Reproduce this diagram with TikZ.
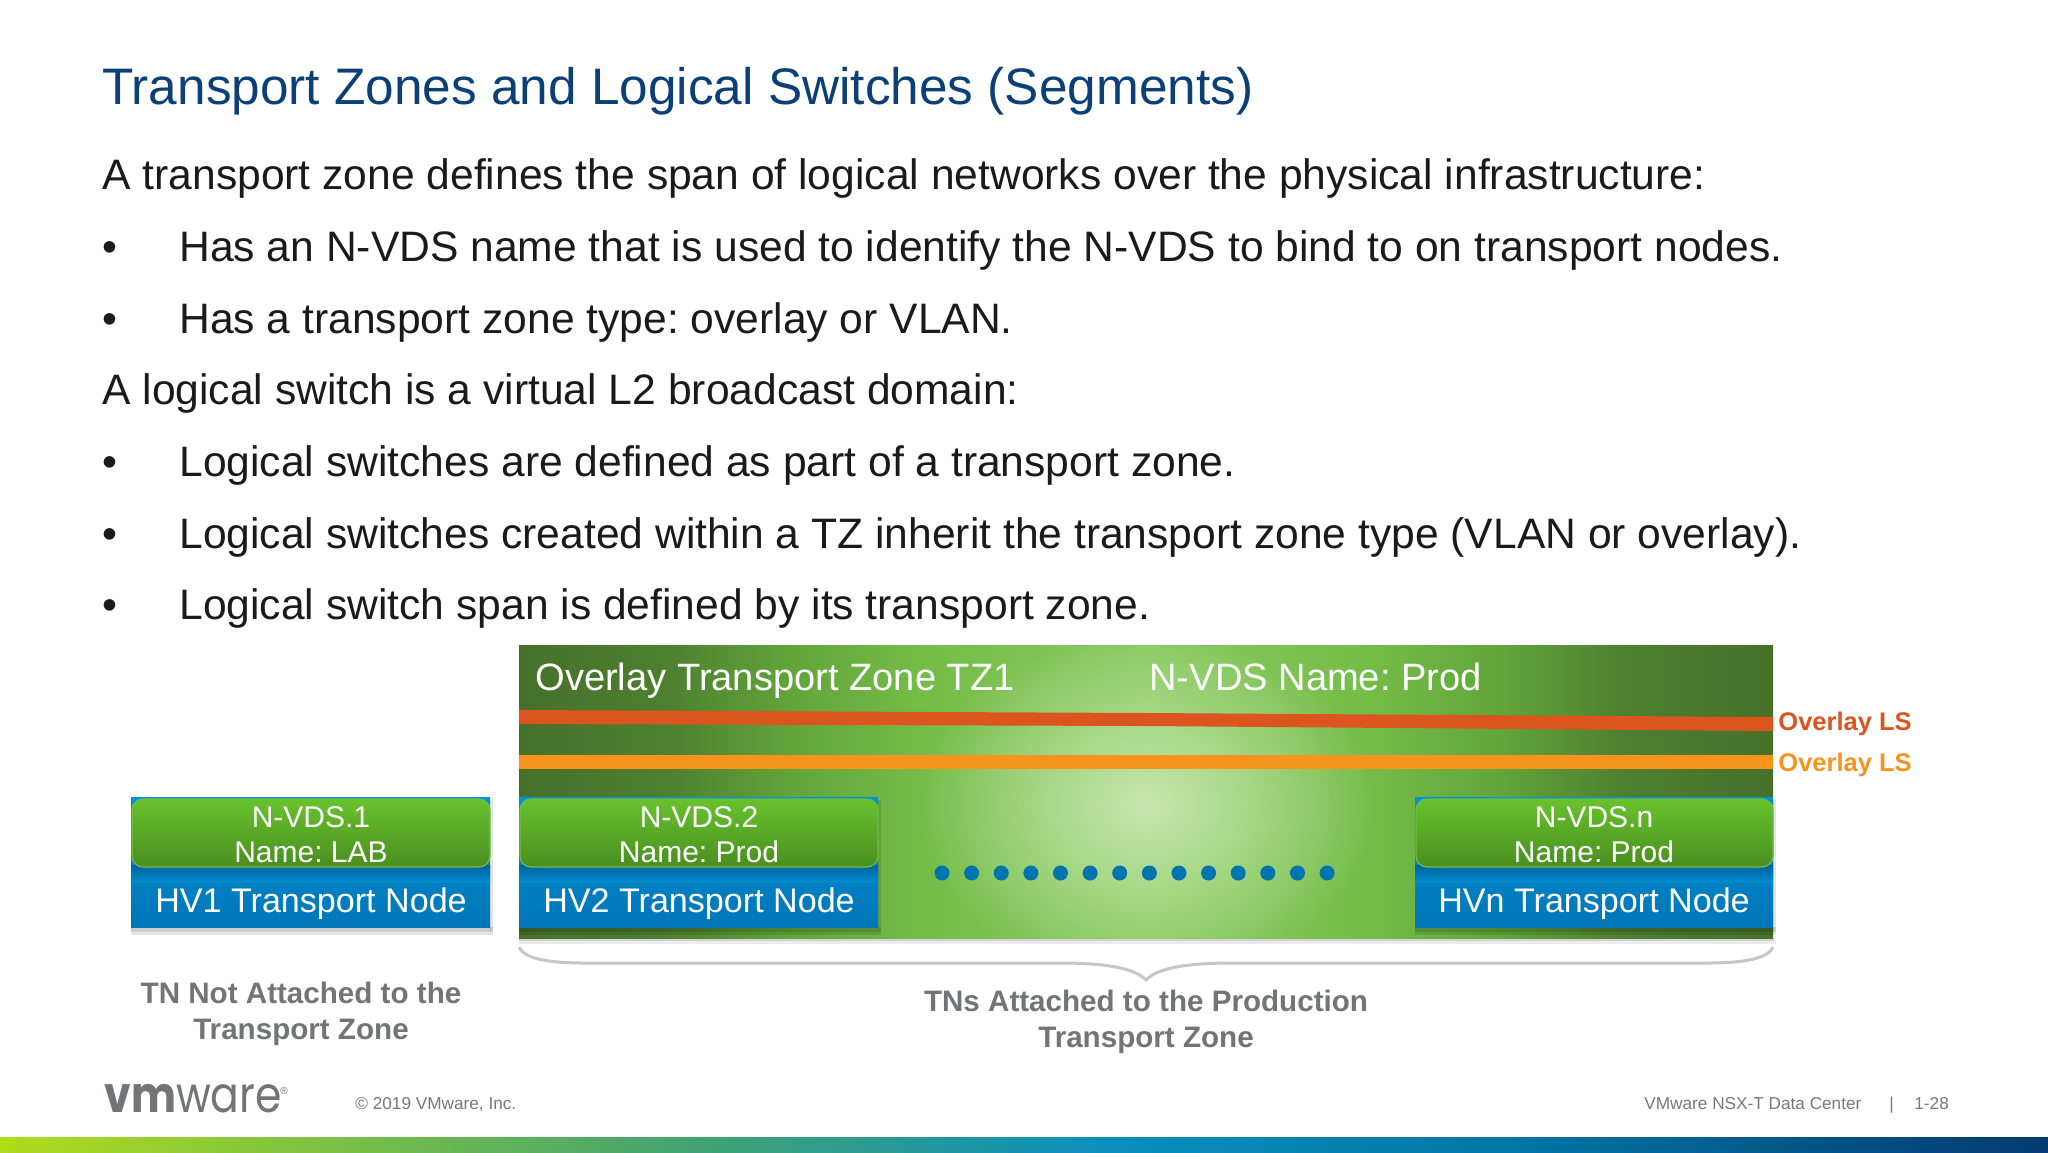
\documentclass[tikz,border=0pt]{standalone}
\usepackage{fontspec}
\usepackage{graphicx}
\setmainfont{Liberation Sans}
\newfontfamily\logofont{Poppins}
\usetikzlibrary{fadings}
\frenchspacing
\definecolor{titleblue}{HTML}{0B3F78}
\definecolor{bodyblack}{HTML}{1A1A1A}
\definecolor{capgray}{HTML}{737477}
\definecolor{footgray}{HTML}{77787B}
\definecolor{lsred}{HTML}{DC541E}
\definecolor{lsorange}{HTML}{F7941E}
\definecolor{dotblue}{HTML}{0074AE}
\definecolor{tza}{HTML}{46702A}
\definecolor{tzb}{HTML}{4E8030}
\definecolor{tzc}{HTML}{62A63A}
\definecolor{tze}{HTML}{74BC48}
\definecolor{tzd}{HTML}{88CA5E}
\definecolor{glow}{HTML}{C6E6AE}
\definecolor{bara}{HTML}{B0DC1A}
\definecolor{barb}{HTML}{42A272}
\definecolor{barc}{HTML}{0A8FC0}
\definecolor{bard}{HTML}{0076A5}
\definecolor{bare}{HTML}{043A70}
\definecolor{bluetop}{HTML}{0092D6}
\definecolor{bluebot}{HTML}{0076B8}
\definecolor{blueshad}{HTML}{0062A0}
\definecolor{bluemid}{HTML}{008ACC}
\definecolor{greentop}{HTML}{68C22C}
\definecolor{greenbot}{HTML}{4A8E20}
\definecolor{greenedge}{HTML}{6EBE46}
\definecolor{bracegray}{HTML}{C6C6C6}
\pgfdeclarehorizontalshading{tzbase}{100bp}{
 color(0bp)=(tza); color(25bp)=(tza); color(31bp)=(tzb); color(36bp)=(tzc); color(41bp)=(tze);
 color(50bp)=(tzd); color(59bp)=(tze); color(64bp)=(tzc); color(69bp)=(tzb); color(75bp)=(tza); color(100bp)=(tza)}
\pgfdeclarehorizontalshading{barshade}{100bp}{
 color(0bp)=(bara); color(25bp)=(bara); color(42bp)=(barb); color(52bp)=(barc);
 color(62bp)=(bard); color(75bp)=(bare); color(100bp)=(bare)}
\tikzfading[name=glowfade,inner color=transparent!0,outer color=transparent!100]
\tikzset{
  x=0.5pt,y=-0.5pt,
  title text/.style={anchor=base west,inner sep=0pt,text=titleblue,font=\fontsize{25.67pt}{30pt}\selectfont},
  body text/.style={anchor=base west,inner sep=0pt,text=bodyblack,font=\fontsize{21.3pt}{25pt}\selectfont},
  zone text/.style={anchor=base west,inner sep=0pt,text=white,font=\fontsize{19.05pt}{23pt}\selectfont},
  vds text/.style={anchor=base,inner sep=0pt,text=white,font=\fontsize{15pt}{18pt}\selectfont},
  hv text/.style={anchor=base,inner sep=0pt,text=white,font=\fontsize{17.05pt}{21pt}\selectfont},
  ls text/.style={anchor=base west,inner sep=0pt,font=\fontsize{12.75pt}{16pt}\selectfont\bfseries},
  cap text/.style={anchor=base,inner sep=0pt,text=capgray,font=\fontsize{14.8pt}{18pt}\selectfont\bfseries},
  foot text/.style={anchor=base west,inner sep=0pt,text=footgray,font=\fontsize{8.6pt}{11pt}\selectfont},
  softshadow/.style={fill=black,opacity=0.10},
}
\newcommand\tnbox[2]{%
  \fill[softshadow] (#1,927) rectangle (#2+3,935);
  \fill[softshadow] (#1,927) rectangle (#2+1,932);
  \fill[softshadow] (#2,800) rectangle (#2+3,932);
  \shade[top color=bluetop,bottom color=bluebot] (#1,797) rectangle (#2,927);
  \shade[top color=blueshad,bottom color=bluemid] (#1,865) rectangle (#2,882);
  \draw[top color=greentop,bottom color=greenbot,rounded corners=5.5pt,draw=greenedge,line width=0.6pt] (#1+1,799) rectangle (#2,867);
}
\begin{document}
\begin{tikzpicture}
\useasboundingbox (0,0) rectangle (2048,1152);
\fill[white] (0,0) rectangle (2048,1152);
% title and body
\node[title text] (title) at (102,104) {Transport Zones and Logical Switches (Segments)};
\node[body text] (l1) at (102,189) {A transport zone defines the span of logical networks over the physical infrastructure:};
\node[body text] (b2) at (102,261) {•};
\node[body text] (l2) at (179,261) {Has an N-VDS name that is used to identify the N-VDS to bind to on transport nodes.};
\node[body text] (b3) at (102,333) {•};
\node[body text] (l3) at (179,333) {Has a transport zone type: overlay or VLAN.};
\node[body text] (l4) at (102,404) {A logical switch is a virtual L2 broadcast domain:};
\node[body text] (b5) at (102,476) {•};
\node[body text] (l5) at (179,476) {Logical switches are defined as part of a transport zone.};
\node[body text] (b6) at (102,548) {•};
\node[body text] (l6) at (179,548) {Logical switches created within a TZ inherit the transport zone type (VLAN or overlay).};
\node[body text] (b7) at (102,619) {•};
\node[body text] (l7) at (179,619) {Logical switch span is defined by its transport zone.};
% transport zone
\fill[black,opacity=0.08] (519,938) rectangle (1776,944);
\fill[black,opacity=0.10] (519,938) rectangle (1774,941);
\shade[shading=tzbase] (519,645) rectangle (1773,938);
\begin{scope}
  \clip (519,645) rectangle (1773,938);
  \fill[glow,path fading=glowfade] (1146,805) ellipse (230 and 175);
\end{scope}
\fill[lsred] (519,710) -- (1146,713) -- (1773,717) -- (1773,731) -- (1146,726) -- (519,724) -- cycle;
\fill[lsorange] (519,755) rectangle (1773,769);
\node[zone text] (tz1) at (535,690) {Overlay Transport Zone TZ1};
\node[zone text] (tzname) at (1149,690) {N-VDS Name: Prod};
\node[ls text,text=lsred] (ls1) at (1778,730) {Overlay LS};
\node[ls text,text=lsorange] (ls2) at (1778,771) {Overlay LS};
% transport nodes
\tnbox{131}{490}
\tnbox{519}{878}
\tnbox{1415}{1773}
\node[vds text] (v1a) at (311,827) {N-VDS.1};
\node[vds text] (v1b) at (311,862) {Name: LAB};
\node[hv text] (hv1) at (311,912) {HV1 Transport Node};
\node[vds text] (v2a) at (699,827) {N-VDS.2};
\node[vds text] (v2b) at (699,862) {Name: Prod};
\node[hv text] (hv2) at (699,912) {HV2 Transport Node};
\node[vds text] (vna) at (1594,827) {N-VDS.n};
\node[vds text] (vnb) at (1594,862) {Name: Prod};
\node[hv text] (hvn) at (1594,912) {HVn Transport Node};
% dots
\foreach \i in {0,...,13} \fill[dotblue] ({942+29.62*\i},873) circle (7.5);
% brace
\coordinate (bl) at (519,947);
\coordinate (br) at (1773,947);
\coordinate (btip) at (1146,980);
\draw[bracegray,line width=1.5pt]
  (bl) .. controls (524,958) and (545,963) .. (585,963) -- (1060,963)
  .. controls (1105,963) and (1135,968) .. (btip)
  .. controls (1157,968) and (1187,963) .. (1232,963) -- (1707,963)
  .. controls (1747,963) and (1768,958) .. (br);
\node[cap text] (c1a) at (301,1003) {TN Not Attached to the};
\node[cap text] (c1b) at (301,1039) {Transport Zone};
\node[cap text] (c2a) at (1146,1011) {TNs Attached to the Production};
\node[cap text] (c2b) at (1146,1047) {Transport Zone};
% footer
\node[anchor=base west,inner sep=0pt,text=capgray,font=\fontsize{25pt}{30pt}\logofont] (logo) at (104,1112) {\scalebox{0.85}[1]{\textbf{vm}ware}};
\node[anchor=base west,inner sep=0pt,text=capgray,font=\fontsize{5pt}{6pt}\selectfont] (logor) at (280,1094) {®};
\node[foot text] (copy) at (355,1109) {© 2019 VMware, Inc.};
\node[foot text] (prod) at (1644,1109) {VMware NSX-T Data Center};
\node[foot text] (sep) at (1889,1109) {|};
\node[foot text] (page) at (1914,1109) {1-28};
\shade[shading=barshade] (0,1137) rectangle (2048,1152);
\end{tikzpicture}
\end{document}
